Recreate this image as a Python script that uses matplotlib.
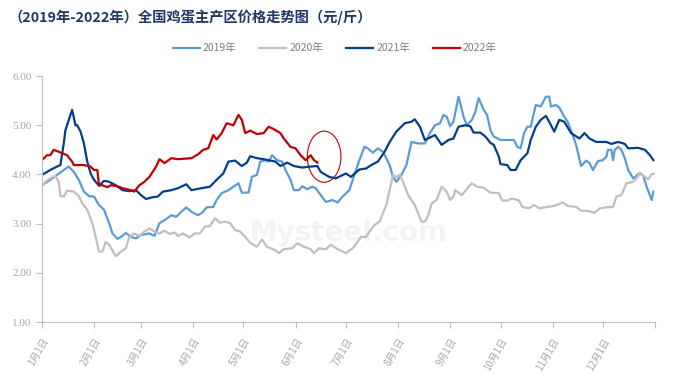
import matplotlib
matplotlib.use("Agg")
import matplotlib.pyplot as plt
from matplotlib.patches import Ellipse

plt.rcParams['font.family'] = ['Noto Sans CJK SC', 'DejaVu Sans']

# day of year (0 = 1月1日) and price in 元/斤
days_2019 = [0, 5, 9, 13, 16, 19, 22, 25, 28, 31, 34, 37, 40, 42, 45, 47, 50, 53, 56, 59,
             64, 67, 70, 73, 77, 80, 83, 86, 89, 93, 96, 98, 102, 104, 107, 111, 114, 117, 119, 123,
             125, 128, 130, 133, 135, 137, 140, 143, 145, 148, 150, 153, 155, 158, 161, 163, 166, 169, 173, 176,
             179, 183, 186, 189, 192, 194, 197, 200, 203, 205, 207, 209, 211, 214, 217, 220, 224, 228, 231, 234,
             237, 239, 241, 243, 245, 248, 249, 251, 253, 256, 258, 260, 263, 265, 267, 269, 273, 277, 281, 283,
             285, 287, 289, 291, 294, 297, 300, 302, 303, 306, 308, 311, 313, 316, 318, 321, 324, 326, 328, 331,
             334, 336, 337, 339, 340, 341, 343, 345, 347, 349, 352, 356, 358, 360, 363, 364]
price_2019 = [3.78, 3.89, 3.99, 4.09, 4.16, 4.05, 3.89, 3.65, 3.56, 3.55, 3.38, 3.28, 3.01, 2.80, 2.69, 2.73, 2.81, 2.73, 2.70, 2.77,
              2.80, 2.75, 3.01, 3.07, 3.17, 3.14, 3.24, 3.33, 3.24, 3.17, 3.24, 3.33, 3.34, 3.48, 3.62, 3.68, 3.75, 3.82, 3.63, 3.63,
              3.95, 3.99, 4.26, 4.29, 4.26, 4.39, 4.29, 4.26, 4.09, 3.89, 3.68, 3.68, 3.76, 3.70, 3.75, 3.72, 3.58, 3.44, 3.48, 3.43,
              3.55, 3.68, 3.99, 4.29, 4.56, 4.53, 4.44, 4.53, 4.46, 4.33, 4.19, 3.95, 3.85, 3.99, 4.19, 4.66, 4.63, 4.63, 4.84, 5.00,
              5.04, 5.21, 5.17, 4.98, 5.07, 5.58, 5.45, 5.17, 5.00, 5.11, 5.27, 5.55, 5.31, 5.21, 4.90, 4.77, 4.70, 4.70, 4.70, 4.56,
              4.53, 4.84, 4.97, 4.97, 5.41, 5.38, 5.58, 5.58, 5.38, 5.41, 5.36, 5.17, 5.07, 4.80, 4.60, 4.17, 4.28, 4.23, 4.09, 4.27,
              4.29, 4.36, 4.50, 4.50, 4.29, 4.50, 4.56, 4.50, 4.33, 4.09, 3.92, 4.03, 3.97, 3.75, 3.48, 3.65]

days_2020 = [0, 2, 5, 8, 10, 11, 13, 15, 19, 22, 24, 27, 30, 32, 34, 36, 38, 40, 44, 47,
             50, 52, 55, 58, 61, 64, 67, 70, 73, 76, 79, 81, 84, 88, 91, 94, 97, 100, 103, 106,
             109, 112, 115, 118, 121, 124, 128, 131, 134, 139, 141, 144, 149, 152, 156, 160, 162, 165, 169, 172,
             176, 181, 185, 186, 190, 193, 195, 198, 201, 203, 205, 207, 209, 211, 213, 215, 218, 222, 226, 228,
             230, 232, 235, 238, 241, 243, 245, 246, 250, 254, 256, 259, 263, 267, 272, 274, 277, 280, 284, 286,
             290, 293, 296, 301, 305, 310, 313, 318, 321, 325, 329, 332, 336, 340, 342, 345, 348, 352, 354, 356,
             359, 361, 363, 365]
price_2020 = [3.75, 3.85, 3.92, 3.97, 3.85, 3.56, 3.55, 3.67, 3.65, 3.56, 3.41, 3.28, 3.01, 2.73, 2.43, 2.43, 2.63, 2.57, 2.34, 2.43,
              2.50, 2.73, 2.80, 2.75, 2.84, 2.90, 2.84, 2.80, 2.86, 2.79, 2.82, 2.75, 2.80, 2.72, 2.80, 2.80, 2.94, 2.95, 3.11, 3.02,
              3.04, 3.01, 2.87, 2.84, 2.73, 2.61, 2.53, 2.68, 2.53, 2.46, 2.40, 2.48, 2.50, 2.60, 2.53, 2.48, 2.40, 2.50, 2.48, 2.57,
              2.48, 2.40, 2.50, 2.54, 2.73, 2.73, 2.84, 2.97, 3.04, 3.21, 3.38, 3.68, 3.99, 3.95, 3.99, 3.85, 3.58, 3.38, 3.04, 3.04,
              3.17, 3.41, 3.48, 3.75, 3.65, 3.48, 3.55, 3.68, 3.58, 3.75, 3.82, 3.75, 3.73, 3.63, 3.62, 3.47, 3.47, 3.51, 3.47, 3.34,
              3.31, 3.38, 3.31, 3.34, 3.36, 3.43, 3.36, 3.34, 3.26, 3.26, 3.22, 3.31, 3.33, 3.34, 3.55, 3.58, 3.82, 3.85, 3.92, 4.02,
              3.95, 3.90, 4.01, 4.01]

days_2021 = [0, 5, 9, 11, 13, 14, 16, 18, 20, 21, 23, 25, 27, 29, 31, 34, 37, 40, 44, 48,
             52, 56, 59, 62, 65, 69, 72, 77, 81, 86, 89, 95, 100, 104, 108, 111, 115, 119, 122, 124,
             128, 132, 139, 142, 146, 150, 155, 160, 164, 166, 171, 175, 181, 184, 189, 193, 196, 200, 204, 207,
             211, 216, 220, 222, 225, 228, 231, 234, 238, 242, 245, 248, 252, 255, 257, 261, 264, 267, 269, 272,
             273, 277, 279, 282, 285, 289, 291, 294, 297, 300, 302, 305, 308, 311, 315, 320, 323, 326, 330, 336,
             339, 343, 347, 349, 355, 359, 362, 364]
price_2021 = [3.99, 4.09, 4.16, 4.19, 4.63, 4.90, 5.11, 5.31, 5.00, 5.00, 4.87, 4.63, 4.26, 4.02, 3.89, 3.77, 3.87, 3.85, 3.78, 3.68,
              3.66, 3.68, 3.58, 3.50, 3.53, 3.55, 3.65, 3.68, 3.72, 3.80, 3.68, 3.72, 3.75, 3.89, 4.02, 4.26, 4.28, 4.17, 4.24, 4.37,
              4.33, 4.31, 4.26, 4.17, 4.24, 4.17, 4.14, 4.16, 4.17, 4.05, 3.95, 3.92, 4.02, 3.95, 4.10, 4.12, 4.19, 4.26, 4.46, 4.66,
              4.87, 5.04, 5.07, 5.12, 4.97, 4.70, 4.75, 4.80, 4.60, 4.70, 4.73, 4.97, 5.00, 4.98, 4.85, 4.85, 4.77, 4.64, 4.60, 4.36,
              4.21, 4.19, 4.09, 4.09, 4.29, 4.43, 4.70, 4.97, 5.11, 5.19, 5.07, 4.87, 5.11, 5.07, 4.84, 4.73, 4.84, 4.73, 4.66, 4.66,
              4.62, 4.66, 4.62, 4.53, 4.54, 4.50, 4.39, 4.29]

days_2022 = [0, 3, 5, 7, 10, 12, 15, 18, 19, 22, 25, 29, 31, 33, 34, 36, 39, 41, 45, 48,
             53, 55, 58, 61, 64, 68, 70, 73, 77, 81, 89, 93, 96, 99, 102, 104, 107, 110, 114, 117,
             119, 121, 124, 128, 132, 135, 138, 142, 144, 148, 151, 154, 157, 160, 162, 164]
price_2022 = [4.29, 4.39, 4.39, 4.50, 4.46, 4.43, 4.39, 4.26, 4.19, 4.19, 4.19, 4.16, 4.09, 4.09, 3.78, 3.78, 3.74, 3.78, 3.76, 3.72,
              3.68, 3.65, 3.78, 3.85, 3.95, 4.16, 4.31, 4.23, 4.33, 4.31, 4.33, 4.41, 4.50, 4.53, 4.80, 4.71, 4.84, 5.04, 5.00, 5.21,
              5.11, 4.84, 4.89, 4.82, 4.84, 4.97, 4.92, 4.84, 4.73, 4.56, 4.53, 4.39, 4.29, 4.39, 4.29, 4.24]

month_days = [0, 31, 59, 90, 120, 151, 181, 212, 243, 273, 304, 334, 365]
month_labels = ["1月1日", "2月1日", "3月1日", "4月1日", "5月1日", "6月1日",
                "7月1日", "8月1日", "9月1日", "10月1日", "11月1日", "12月1日", ""]
y_ticks = [1, 2, 3, 4, 5, 6]

fig = plt.figure(figsize=(6.76, 3.82), dpi=100)
ax = fig.add_axes([0.062, 0.157, 0.907, 0.644])

ax.plot(days_2019, price_2019, color="#5B9BD5", lw=1.6, label="2019年")
ax.plot(days_2020, price_2020, color="#BFBFBF", lw=1.6, label="2020年")
ax.plot(days_2021, price_2021, color="#053D8A", lw=1.6, label="2021年")
ax.plot(days_2022, price_2022, color="#C00000", lw=1.6, label="2022年")

# red circle marking the latest 2022 data
ax.add_patch(Ellipse((168, 4.36), 20, 1.04, fill=False, edgecolor="#C00000", lw=0.8))

# faint watermark
ax.text(0.5, 0.36, "Mysteel.com", transform=ax.transAxes, ha="center", va="center",
        fontsize=20, fontweight="bold", color="#F3F3F3", family=["DejaVu Sans"], zorder=0)

ax.set_xlim(0, 365)
ax.set_ylim(1, 6)
ax.set_xticks(month_days)
ax.set_xticklabels(month_labels, rotation=60, ha="right", va="top", rotation_mode="anchor",
                   fontsize=7, color="#A6A6A6")
ax.set_yticks(y_ticks)
ax.set_yticklabels([f"{v:.2f}" for v in y_ticks], fontsize=8, color="#A6A6A6",
                   family=["Liberation Serif"])
for s in ["top", "right"]:
    ax.spines[s].set_visible(False)
for s in ["left", "bottom"]:
    ax.spines[s].set_color("#BFBFBF")
ax.tick_params(axis="both", colors="#BFBFBF", length=4, width=0.8)
ax.tick_params(axis="x", labelcolor="#A6A6A6", pad=6)
ax.tick_params(axis="y", labelcolor="#A6A6A6")

fig.text(0.012, 0.955, "（2019年-2022年）全国鸡蛋主产区价格走势图（元/斤）", fontsize=10.3,
         fontweight="bold", color="#1F3864", va="center")

fig.legend(loc="center", bbox_to_anchor=(0.495, 0.874), ncol=4, frameon=False,
           fontsize=7.5, labelcolor="#7F7F7F", handlelength=2.6, columnspacing=2.2,
           handletextpad=0.3)

fig.savefig("out.png", dpi=100)
